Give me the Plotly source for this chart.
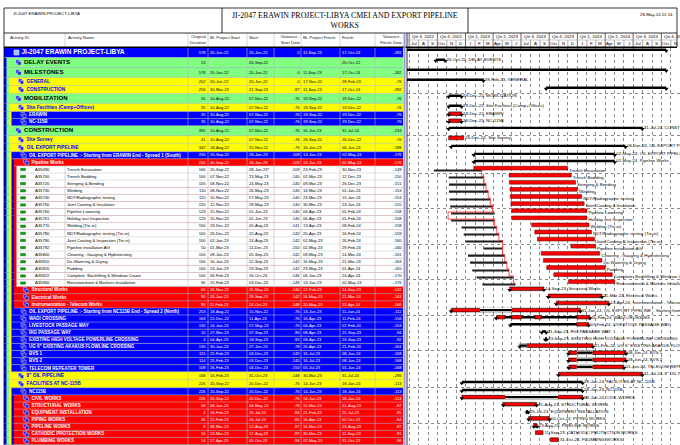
import plotly.graph_objects as go
import pandas as pd

# ---------------- data ----------------
levels = [0, 1, 1, 2, 2, 1, 2, 3, 3, 1, 2, 2, 3, 4] + [5] * 17 + [4, 4, 4] + [3] * 9 + [2, 2, 3] + [4] * 7

act_ids = [""] * 14 + ["A35690", "A35700", "A35720", "A35730", "A35740", "A35750", "A35760", "A35761",
                       "A35770", "A35780", "A35790", "A35792", "A35800", "A35810", "A35820", "A35822",
                       "A35950"] + [""] * 22

names = ["JI-2047 ERAWIN PROJECT-LIBYA", "DELAY EVENTS", "MILESTONES", "GENERAL", "CONSTRUCTION",
         "MOBILIZATION", "Site Facilities (Camp+Offices)", "ERAWIN", "NC-115B", "CONSTRUCTION",
         "Site Survey", "OIL EXPORT PIPELINE",
         "OIL EXPORT PIPELINE :- Starting from ERAWIN End - Spread 1 (South)", "Pipeline Works",
         "Trench Excavation", "Trench Bedding", "Stringing & Bending", "Welding",
         "NDT/Radiographic testing", "Joint Coating & Insulation", "Pipeline Lowering",
         "Holiday test Inspection", "Welding (Tie-in)", "NDT/Radiographic testing (Tie-in)",
         "Joint Coating & Inspection (Tie-in)", "Pipeline installation AG",
         "Cleaning , Gauging & Hydrotesting", "De-Watering & Drying", "Padding",
         "Complete  Backfilling & Windrow Crown", "Reinstatement & Markers Installation",
         "Structural Works", "Electrical Works", "Instrumentation - Telecom Works",
         "OIL EXPORT PIPELINE :- Starting from NC115B End - Spread 2 (North)", "WADI CROSSING",
         "LIVESTOCK PASSAGE WAY", "RIG PASSAGE WAY", "EXISTING HIGH VOLTAGE POWERLINE CROSSING",
         "UG 6\" EXISTING AKAKUS FLOWLINE CROSSING", "BVS 1", "BVS 2", "TELECOM REPEATER TOWER",
         "8\" OIL PIPELINE", "FACILITIES AT NC-115B", "NC115B", "CIVIL WORKS", "STRUCTURAL WORKS",
         "EQUIPMENT INSTALLATION", "PIPING WORKS", "PIPELINE WORKS", "CATHODIC PROTECTION WORKS",
         "PLUMBING WORKS"]

orig_dur = [578, 23, 578, 202, 256, 35, 35, 35, 35, 395, 41, 342, 256, 256,
            166, 100, 105, 110, 115, 120, 123, 123, 100, 100, 100, 50, 100, 100, 100, 100, 90,
            60, 90, 90, 253, 163, 132, 10, 4, 130, 115, 114, 108, 168, 226, 226, 226, 58, 4, 46, 8, 16, 14]

bl_start = ["20-Jun-22", "", "20-Jun-22", "20-Jun-22", "30-Mar-23", "10-Aug-22", "10-Aug-22", "10-Aug-22",
            "10-Aug-22", "10-Aug-22", "10-Aug-22", "18-Aug-22", "20-Sep-22", "20-Sep-22",
            "20-Sep-22", "07-Nov-22", "08-Nov-22", "08-Nov-22", "10-Nov-22", "12-Nov-22", "15-Nov-22",
            "15-Nov-22", "19-Dec-22", "26-Dec-22", "02-Jan-23", "01-Mar-23", "09-Jan-23", "16-Jan-23",
            "23-Jan-23", "06-Feb-23", "25-Feb-23",
            "26-Nov-22", "28-Jan-23", "11-Feb-23", "18-Aug-22", "22-Dec-22", "24-Jan-23", "27-Mar-23",
            "04-Apr-23", "30-Jan-23", "25-Feb-23", "25-Feb-23", "26-Feb-23", "16-Feb-23", "20-Sep-22",
            "20-Sep-22", "20-Sep-22", "08-Jan-23", "18-Feb-23", "22-Feb-23", "08-Mar-23", "13-Mar-23",
            "17-Apr-23"]

start = ["20-Jun-22", "26-Sep-22", "20-Jun-22", "20-Jun-22", "21-Sep-23", "07-Nov-22", "07-Nov-22",
         "07-Nov-22", "07-Nov-22", "07-Nov-22", "07-Nov-22", "15-Nov-22", "28-Jan-23", "28-Jan-23",
         "28-Jan-23*", "23-May-23", "24-May-23", "26-May-23", "27-May-23", "29-May-23", "01-Jun-23",
         "01-Jun-23", "05-Aug-23", "15-Aug-23", "24-Aug-23", "11-Dec-23", "05-Sep-23", "12-Sep-23",
         "23-Sep-23", "16-Oct-23", "03-Dec-23",
         "25-May-23", "28-Sep-23", "24-Oct-23", "15-Nov-22", "11-Apr-23", "27-May-23", "07-Sep-23",
         "18-Sep-23", "27-Jun-23", "03-Dec-23", "03-Dec-23", "04-Dec-23", "31-Oct-23", "20-Dec-22",
         "20-Dec-22", "20-Dec-22", "04-May-23", "20-Jul-23", "26-Jul-23", "12-Aug-23", "17-Aug-23",
         "05-Oct-23"]

var_start = ["0", "", "0", "0", "-87", "-76", "-76", "-76", "-76", "-76", "-76", "-76", "-109", "-109",
             "-109", "-140", "-140", "-140", "-140", "-140", "-140", "-140", "-141", "-142", "-142",
             "-150", "-142", "-142", "-142", "-146", "-149",
             "-140", "-142", "-148", "-76", "-76", "-76", "-90", "-92", "-78", "-145", "-145", "-150",
             "-148", "-76", "-76", "-76", "-78", "-84", "-85", "-87", "-87", "-94"]

bl_finish = ["11-Sep-23", "", "11-Sep-23", "17-Nov-22", "11-Sep-23", "19-Sep-22", "19-Sep-22", "19-Sep-22",
             "19-Sep-22", "16-Jun-23", "26-Sep-22", "16-Jun-23", "13-Jun-23", "13-Jun-23",
             "23-Feb-23", "02-Mar-23", "09-Mar-23", "16-Mar-23", "23-Mar-23", "30-Mar-23", "06-Apr-23",
             "06-Apr-23", "13-Apr-23", "20-Apr-23", "02-May-23", "02-May-23", "09-May-23", "16-May-23",
             "23-May-23", "06-Jun-23", "13-Jun-23",
             "17-Feb-23", "16-May-23", "20-May-23", "13-Jun-23", "16-Apr-23", "04-Apr-23", "08-Apr-23",
             "08-Apr-23", "20-Apr-23", "16-Jul-23", "16-Jul-23", "05-Jul-23", "30-Mar-23", "14-Jun-23",
             "14-Jun-23", "14-Jun-23", "15-Mar-23", "21-Feb-23", "16-Apr-23", "16-Mar-23", "30-Mar-23",
             "07-May-23"]

finish = ["17-Oct-24", "26-Oct-22", "17-Oct-24", "28-Feb-23", "17-Oct-24", "19-Dec-22", "19-Dec-22",
          "19-Dec-22", "19-Dec-22", "31-Jul-24", "26-Dec-22", "06-Jun-24", "02-May-24", "02-May-24",
          "30-Nov-23", "12-Dec-23", "26-Dec-23", "01-Jan-24", "15-Jan-24", "23-Jan-24", "01-Feb-24",
          "01-Feb-24", "08-Feb-24", "16-Feb-24", "26-Feb-24", "29-Feb-24", "14-Mar-24", "21-Mar-24",
          "01-Apr-24", "24-Apr-24", "02-May-24",
          "14-Sep-23", "21-Mar-24", "13-Apr-24", "11-Jan-24", "11-Feb-24", "07-Feb-24", "21-Sep-23",
          "23-Sep-23", "21-Feb-24", "08-Jun-24", "08-Jun-24", "01-Jun-24", "31-Jul-24", "18-Jan-24",
          "18-Jan-24", "18-Jan-24", "21-Aug-23", "25-Jul-23", "02-Oct-23", "23-Aug-23", "11-Sep-23",
          "31-Oct-23"]

var_finish = ["-282", "", "-282", "-76", "-282", "-76", "-76", "-76", "-76", "-234", "-76", "-188", "-176",
              "-176", "-149", "-150", "-151", "-153", "-154", "-155", "-158", "-158", "-158", "-159",
              "-160", "-160", "-161", "-163", "-165", "-170", "-176",
              "-142", "-163", "-166", "-112", "-156", "-153", "-94", "-92", "-161", "-168", "-168", "-168",
              "-296", "-113", "-113", "-113", "-87", "-85", "-84", "-87", "-91", "-96"]

# gantt bar style per row
bar_style = ["sum", "sum", "sum", "sum", "sum", "sum", "sum", "csum", "csum", "sum", "crit", "sum", "sum", "sum"] \
    + ["act"] * 17 + ["csum", "csum", "csum", "csum", "sum", "sum", "sum", "sum", "csum", "csum", "csum",
                      "csum", "csum", "sum", "sum", "csum", "csum", "sum", "csum", "csum", "crit", "crit"]

# critical (red) pieces inside black summary bars, and non-critical (black) pieces inside red ones
seg_row = [35, 35, 35, 35, 36, 34, 39, 40, 41, 42, 46]
seg_start = ["13-Apr-23", "01-Jun-23", "16-Aug-23", "30-Dec-23", "30-Dec-23", "17-Feb-23", "27-Jun-23",
             "30-Dec-23", "30-Dec-23", "30-Dec-23", "10-May-23"]
seg_end = ["10-May-23", "04-Jul-23", "07-Sep-23", "11-Feb-24", "07-Feb-24", "01-Jun-23", "20-Jul-23",
           "20-Feb-24", "20-Feb-24", "20-Feb-24", "30-Oct-23"]
seg_kind = ["crit", "crit", "crit", "crit", "crit", "non", "non", "non", "non", "non", "non"]

# progress line points (activity rows only)
progress = [""] * 14 + ["23-Feb-23", "02-Mar-23", "09-Mar-23", "16-Mar-23", "23-Mar-23", "30-Mar-23",
                        "05-Nov-22", "06-Apr-23", "13-Apr-23", "20-Apr-23", "02-May-23", "02-May-23",
                        "09-May-23", "16-May-23", "23-May-23", "06-Jun-23", "13-Jun-23"] + [""] * 22

col_headers = ["Activity ID", "Activity Name", "Original<br>Duration", "BL Project Start", "Start",
               "Variance -<br>Start Date", "BL Project Finish", "Finish", "Variance -<br>Finish Date"]
title_left = "JI-2047 ERAWIN PROJECT-LIBYA"
title_main = "JI-2047 ERAWIN PROJECT-LIBYA CMEI AND EXPORT PIPELINE<br>WORKS"
title_right = "28-May-24 21:14"
month_abbr = {1: "J", 2: "F", 3: "M", 4: "Apr", 5: "M", 6: "J", 7: "Jul", 8: "A", 9: "S", 10: "Oct",
              11: "N", 12: "D"}

# ---------------- style / layout constants ----------------
FONT = "Liberation Sans, Arial, sans-serif"
ROW_H = {0: 10, 1: 10, 2: 8, 3: 7.1, 4: 7.1, 5: 7.1}
Y0 = 47.5
INDENT = {0: 4, 1: 6.5, 2: 9, 3: 11.5, 4: 14, 5: 16.5}
LEVEL_BG = {0: "#0000ff", 1: "#80ff80", 2: "#ffff00", 3: "#0000ff", 4: "#ff0000", 5: "#ffffff"}
NAME_COLOR = {0: "white", 1: "black", 2: "#0000ff", 3: "white", 4: "white", 5: "black"}
VAL_COLOR = {0: "white", 1: "black", 2: "black", 3: "white", 4: "white", 5: "black"}
NAME_SIZE = {0: 6.5, 1: 6.1, 2: 4.8, 3: 4.5, 4: 4.5, 5: 4.2}
TABLE_R = 403
COL_X = [65, 188, 208, 247, 274, 301, 340, 375]
GX0, GX1 = 407, 680
LABEL_LIMIT = 662
D_REF, X_REF, PX_PER_DAY = pd.Timestamp("2023-02-28"), 483.3, 0.3064


def pdate(s):
    return pd.to_datetime(s.rstrip("*"), format="%d-%b-%y") if s else None


def xpix(dt):
    return X_REF + (dt - D_REF).days * PX_PER_DAY


g_start = D_REF + pd.Timedelta(days=(GX0 - X_REF) / PX_PER_DAY)
g_end = D_REF + pd.Timedelta(days=(GX1 - X_REF) / PX_PER_DAY)

n = len(names)
tops, centers, heights = [], [], []
y = Y0
for L in levels:
    h = ROW_H[L]
    tops.append(y)
    heights.append(h)
    centers.append(y + h / 2)
    y += h
Y_END = y

fig = go.Figure()

# header background for table header row (white)
fig.add_trace(go.Bar(orientation="h", y=[40.2], base=[4], x=[GX1 - 4], width=[14.4],
                     marker=dict(color="white", line=dict(width=0)), hoverinfo="skip",
                     xaxis="x", yaxis="y"))

# ---------------- table backgrounds (nested WBS bands) ----------------
for k in range(6):
    idx = [i for i in range(n) if levels[i] >= k]
    fig.add_trace(go.Bar(
        orientation="h", y=[centers[i] for i in idx], base=[INDENT[k]] * len(idx),
        x=[TABLE_R - INDENT[k]] * len(idx), width=[heights[i] for i in idx],
        marker=dict(color=LEVEL_BG[k], line=dict(width=0)), hoverinfo="skip", xaxis="x", yaxis="y"))

# row separators
sx, sy = [], []
for i in range(n):
    yb = tops[i] + heights[i]
    sx += [INDENT[levels[i]], TABLE_R, None]
    sy += [yb, yb, None]
fig.add_trace(go.Scatter(x=sx, y=sy, mode="lines", line=dict(color="#c4c4c4", width=0.5),
                         hoverinfo="skip", xaxis="x", yaxis="y"))
# column separators
cx, cy = [], []
for c in COL_X[1:]:
    cx += [c, c, None]
    cy += [33, Y_END, None]
for i in range(n):
    if levels[i] == 5:
        cx += [COL_X[0], COL_X[0], None]
        cy += [tops[i], tops[i] + heights[i], None]
cx += [COL_X[0], COL_X[0], None]
cy += [33, 47.5, None]
fig.add_trace(go.Scatter(x=cx, y=cy, mode="lines", line=dict(color="#b8b8b8", width=0.6),
                         hoverinfo="skip", xaxis="x", yaxis="y"))

# icons
act_rows = [i for i in range(n) if levels[i] == 5]
fig.add_trace(go.Bar(orientation="h", y=[centers[i] for i in act_rows], base=[20.5] * len(act_rows),
                     x=[5] * len(act_rows), width=[2.4] * len(act_rows),
                     marker=dict(color="#10a010", line=dict(color="#006000", width=0.4)),
                     hoverinfo="skip", xaxis="x", yaxis="y"))
wbs_rows = [i for i in range(n) if 0 < levels[i] < 5]
for dx, dy in [(-1.2, -0.9), (0.6, 0.8)]:
    fig.add_trace(go.Scatter(
        x=[INDENT[levels[i]] + 12.3 + dx for i in wbs_rows], y=[centers[i] + dy for i in wbs_rows],
        mode="markers", marker=dict(symbol="square", size=3.4, color="#2020e0",
                                    line=dict(color="#d0d0ff", width=0.5)),
        hoverinfo="skip", xaxis="x", yaxis="y"))
top_rows = [i for i in range(n) if levels[i] == 0]
fig.add_trace(go.Scatter(
    x=[INDENT[0] + 12.5 for i in top_rows], y=[centers[i] for i in top_rows],
    mode="markers", marker=dict(symbol="square", size=5, color="#9fbfff", line=dict(color="#e0e8ff", width=0.6)),
    hoverinfo="skip", xaxis="x", yaxis="y"))


# ---------------- table text ----------------
def add_text(xs, ys, texts, colors, size, bold, pos):
    fig.add_trace(go.Scatter(
        x=xs, y=ys, text=texts, mode="text", textposition=pos,
        textfont=dict(family=FONT, size=size, color=colors, weight="bold" if bold else "normal"),
        hoverinfo="skip", cliponaxis=False, xaxis="x", yaxis="y"))


for L in range(6):
    idx = [i for i in range(n) if levels[i] == L]
    if not idx:
        continue
    cys = [centers[i] + 0.2 for i in idx]
    if L == 5:
        add_text([35] * len(idx), cys, [act_ids[i] for i in idx], "black", 4.2, False, "middle right")
        add_text([67] * len(idx), cys, [names[i] for i in idx], "black", 4.2, False, "middle right")
    else:
        add_text([INDENT[L] + 17.5] * len(idx), cys, [names[i] for i in idx], NAME_COLOR[L],
                 NAME_SIZE[L], True, "middle right")
    vc = VAL_COLOR[L]
    vs = 4.1
    add_text([205.5] * len(idx), cys, [str(orig_dur[i]) for i in idx], vc, vs, False, "middle left")
    add_text([210] * len(idx), cys, [bl_start[i] for i in idx], vc, vs, False, "middle right")
    add_text([249] * len(idx), cys, [start[i] for i in idx], vc, vs, False, "middle right")
    add_text([299.5] * len(idx), cys, [var_start[i] for i in idx], vc, vs, False, "middle left")
    add_text([303] * len(idx), cys, [bl_finish[i] for i in idx], vc, vs, False, "middle right")
    add_text([342] * len(idx), cys, [finish[i] for i in idx], vc, vs, False, "middle right")
    add_text([401.5] * len(idx), cys, [var_finish[i] for i in idx], vc, vs, False, "middle left")

# table header text
hx = [10, 68, 206, 210, 249, 300, 303, 342, 402]
hpos = ["middle right", "middle right", "middle left", "middle right", "middle right", "middle left",
        "middle right", "middle right", "middle left"]
for xh, t, p in zip(hx, col_headers, hpos):
    nl = t.count("<br>")
    add_text([xh], [37.5 + 2.4 * nl], [t], "#202020", 4.3, False, p)

# ---------------- gantt ----------------
ms_day = 86400000.0


def add_bars(rows, yoff, thick, sa, sb, color, line_color, line_w):
    ys, bases, lens = [], [], []
    for i, a_s, b_s in zip(rows, sa, sb):
        a, b = pdate(a_s), pdate(b_s)
        if a is None or b is None:
            continue
        ys.append(tops[i] + yoff)
        bases.append(a.strftime("%Y-%m-%d"))
        lens.append(max((b - a).days, 1) * ms_day)
    fig.add_trace(go.Bar(orientation="h", y=ys, base=bases, x=lens, width=[thick] * len(ys),
                         marker=dict(color=color, line=dict(color=line_color, width=line_w)),
                         hoverinfo="skip", xaxis="x2", yaxis="y2"))


def rows_of(style):
    return [i for i in range(n) if bar_style[i] == style]


sum_idx, csum_idx, crit_idx, act_idx = rows_of("sum"), rows_of("csum"), rows_of("crit"), rows_of("act")

# baseline bars for activities
add_bars(act_idx, 4.9, 1.4, [bl_start[i] for i in act_idx], [bl_finish[i] for i in act_idx],
         "#202020", "#202020", 0)
# summary / critical / activity bars
add_bars(sum_idx, 2.2, 2.4, [start[i] for i in sum_idx], [finish[i] for i in sum_idx], "black", "black", 0)
add_bars(csum_idx, 2.2, 3.6, [start[i] for i in csum_idx], [finish[i] for i in csum_idx],
         "#ff0000", "black", 0.6)
add_bars(crit_idx, 2.2, 3.8, [start[i] for i in crit_idx], [finish[i] for i in crit_idx],
         "#ff0000", "#400000", 0.6)
add_bars(act_idx, 2.2, 3.8, [start[i] for i in act_idx], [finish[i] for i in act_idx],
         "#ff0000", "#500000", 0.5)

# segments
cs = [k for k in range(len(seg_row)) if seg_kind[k] == "crit"]
ns = [k for k in range(len(seg_row)) if seg_kind[k] == "non"]
add_bars([seg_row[k] for k in cs], 2.2, 3.6, [seg_start[k] for k in cs], [seg_end[k] for k in cs],
         "#ff0000", "black", 0.5)
add_bars([seg_row[k] for k in ns], 2.2, 4.0, [seg_start[k] for k in ns], [seg_end[k] for k in ns],
         "white", "white", 0)
add_bars([seg_row[k] for k in ns], 2.2, 2.4, [seg_start[k] for k in ns], [seg_end[k] for k in ns],
         "black", "black", 0)

# summary end caps
capx, capy = [], []
for i in sum_idx + csum_idx:
    a, b = pdate(start[i]), pdate(finish[i])
    for dd in (a, b):
        capx.append(dd.strftime("%Y-%m-%d"))
        capy.append(tops[i] + 3.4)
fig.add_trace(go.Scatter(x=capx, y=capy, mode="markers",
                         marker=dict(symbol="triangle-down", size=4.2, color="black", line=dict(width=0)),
                         hoverinfo="skip", xaxis="x2", yaxis="y2"))

# progress line
px, py = [], []
for i in range(n):
    if progress[i]:
        px.append(pdate(progress[i]).strftime("%Y-%m-%d"))
        py.append(centers[i])
fig.add_trace(go.Scatter(x=px, y=py, mode="lines", line=dict(color="#ff2020", width=0.8, shape="vh"),
                         hoverinfo="skip", xaxis="x2", yaxis="y2"))

# gantt labels (only those that start inside the visible gantt area)
lx, ly, lt = [], [], []
for i in range(n):
    f = pdate(finish[i])
    if xpix(f) > LABEL_LIMIT:
        continue
    lx.append((f + pd.Timedelta(days=5)).strftime("%Y-%m-%d"))
    if bar_style[i] == "act":
        ly.append(tops[i] + 4.6)
        lt.append(names[i])
    else:
        ly.append(tops[i] + 2.6)
        lt.append(f"{finish[i]}, {names[i]}")
fig.add_trace(go.Scatter(x=lx, y=ly, text=lt, mode="text", textposition="middle right",
                         textfont=dict(family=FONT, size=4.4, color="black"),
                         hoverinfo="skip", xaxis="x2", yaxis="y2"))

# ---------------- gantt header ----------------
shapes = []
annotations = []
months = pd.date_range("2022-07-01", "2024-11-01", freq="MS")
for m in months:
    mid = m + pd.Timedelta(days=15)
    annotations.append(dict(x=mid.strftime("%Y-%m-%d"), y=43.7, xref="x2", yref="y",
                            text=month_abbr[m.month], showarrow=False,
                            font=dict(family=FONT, size=4.4, color="black")))
    q = m.month in (1, 4, 7, 10)
    shapes.append(dict(type="line", xref="x2", yref="y", x0=m.strftime("%Y-%m-%d"),
                       x1=m.strftime("%Y-%m-%d"), y0=33 if q else 40, y1=47,
                       line=dict(color="black" if q else "#707070", width=0.6)))
    if q:
        qn = (m.month - 1) // 3 + 1
        annotations.append(dict(x=(m + pd.Timedelta(days=3)).strftime("%Y-%m-%d"), y=36.6, xref="x2",
                                yref="y", xanchor="left", text=f"Qtr {qn}, {m.year}", showarrow=False,
                                font=dict(family=FONT, size=4.4, color="black")))


# frame lines (chrome)
def hline(x0, x1, yv, w=0.8, c="black"):
    shapes.append(dict(type="line", xref="x", yref="y", x0=x0, x1=x1, y0=yv, y1=yv,
                       line=dict(color=c, width=w)))


def vline(xv, y0, y1, w=0.8, c="black"):
    shapes.append(dict(type="line", xref="x", yref="y", x0=xv, x1=xv, y0=y0, y1=y1,
                       line=dict(color=c, width=w)))


hline(4, 677, 8)
hline(4, 677, 33)
vline(4, 8, 445)
vline(677, 8, 47)
vline(222, 8, 33)
vline(468, 8, 33)
hline(407, 677, 40, 0.5, "#909090")
hline(4, 677, 47.3, 1.4)
vline(404.5, 33, 445, 2, "#9a9ae8")
vline(407, 33, 445, 0.8, "black")

annotations.append(dict(x=11, y=13, xref="x", yref="y", xanchor="left", text=title_left, showarrow=False,
                        font=dict(family=FONT, size=4.3, color="black")))
annotations.append(dict(x=675, y=14, xref="x", yref="y", xanchor="right", text=title_right,
                        showarrow=False, font=dict(family=FONT, size=4.3, color="black")))
annotations.append(dict(x=345, y=20.5, xref="x", yref="y", xanchor="center", text=title_main,
                        showarrow=False, font=dict(family="Liberation Serif, Times New Roman, serif",
                                                    size=7.9, color="black")))

gridy = [tops[i] for i in range(n) if i % 5 == 0 and i > 0]
fig.update_layout(
    width=680, height=445, margin=dict(l=0, r=0, t=0, b=0),
    paper_bgcolor="white", plot_bgcolor="rgba(0,0,0,0)", showlegend=False, barmode="overlay",
    font=dict(family=FONT),
    xaxis=dict(range=[0, 680], domain=[0, 1], visible=False, anchor="y", fixedrange=True),
    yaxis=dict(range=[445, 0], domain=[0, 1], visible=False, anchor="x", fixedrange=True),
    xaxis2=dict(type="date", range=[g_start, g_end], domain=[GX0 / 680, 1], anchor="y2",
                showgrid=True, gridcolor="#8a8a8a", griddash="dot", gridwidth=0.6,
                dtick="M1", tick0="2022-07-01", showticklabels=False, ticks="", zeroline=False,
                showline=False, fixedrange=True),
    yaxis2=dict(range=[445, Y0], domain=[0, (445 - Y0) / 445], anchor="x2", showgrid=True,
                tickvals=gridy, gridcolor="#8a8a8a", griddash="dot", gridwidth=0.6,
                showticklabels=False, ticks="", zeroline=False, showline=False, fixedrange=True),
    shapes=shapes, annotations=annotations,
)

fig.write_html("out.html")
